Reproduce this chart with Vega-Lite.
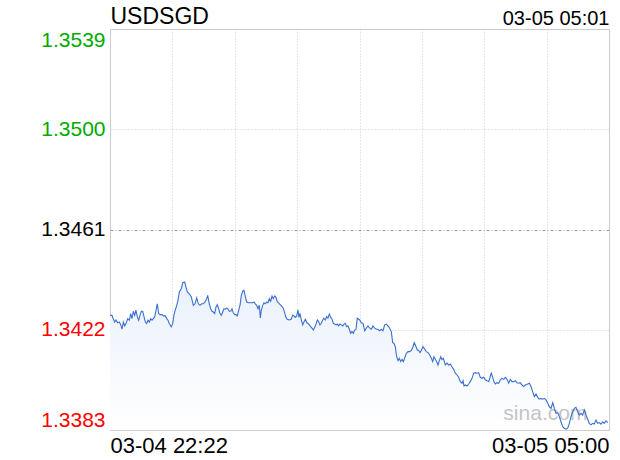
{
  "$schema": "https://vega.github.io/schema/vega-lite/v6.json",
  "width": 499,
  "height": 401,
  "autosize": {"type": "none"},
  "padding": {"left": 110, "top": 29, "right": 11, "bottom": 30},
  "background": "white",
  "config": {
    "view": {"stroke": "#cccccc", "strokeWidth": 1},
    "font": "Liberation Sans"
  },
  "datasets": {
    "fx": [
      {"t":0.0,"p":1.34276},{"t":1.6,"p":1.34276},{"t":2.6,"p":1.34263},{"t":3.8,"p":1.3425},{"t":4.8,"p":1.34258},{"t":6.2,"p":1.34247},{"t":7.5,"p":1.3425},{"t":8.8,"p":1.34237},{"t":9.6,"p":1.34222},{"t":10.7,"p":1.3425},{"t":11.8,"p":1.34235},{"t":12.8,"p":1.34244},{"t":14.2,"p":1.34263},{"t":15.5,"p":1.34257},{"t":16.6,"p":1.34283},{"t":17.6,"p":1.34263},{"t":18.7,"p":1.34292},{"t":19.8,"p":1.34276},{"t":20.8,"p":1.34296},{"t":21.9,"p":1.3427},{"t":23.0,"p":1.34257},{"t":24.0,"p":1.34276},{"t":25.1,"p":1.34292},{"t":26.2,"p":1.34292},{"t":27.3,"p":1.3427},{"t":28.3,"p":1.3425},{"t":29.4,"p":1.34244},{"t":30.5,"p":1.34257},{"t":31.5,"p":1.3425},{"t":32.6,"p":1.34263},{"t":33.7,"p":1.34257},{"t":34.7,"p":1.34263},{"t":35.8,"p":1.3427},{"t":36.9,"p":1.34296},{"t":37.9,"p":1.34321},{"t":39.0,"p":1.34283},{"t":40.1,"p":1.34279},{"t":41.7,"p":1.34279},{"t":42.7,"p":1.34274},{"t":44.3,"p":1.34274},{"t":45.5,"p":1.34263},{"t":46.5,"p":1.34257},{"t":47.5,"p":1.34244},{"t":49.1,"p":1.34231},{"t":50.3,"p":1.34244},{"t":51.3,"p":1.34279},{"t":52.3,"p":1.34296},{"t":53.5,"p":1.34315},{"t":54.5,"p":1.34335},{"t":55.6,"p":1.34367},{"t":57.2,"p":1.3438},{"t":58.3,"p":1.34403},{"t":59.9,"p":1.34406},{"t":60.9,"p":1.34386},{"t":62.0,"p":1.34367},{"t":63.6,"p":1.3436},{"t":65.2,"p":1.34348},
      {"t":66.8,"p":1.34315},{"t":68.1,"p":1.34321},{"t":69.5,"p":1.34344},{"t":70.8,"p":1.34321},{"t":72.1,"p":1.34315},{"t":73.5,"p":1.34321},{"t":74.8,"p":1.34321},{"t":76.2,"p":1.34328},{"t":77.5,"p":1.34341},{"t":78.3,"p":1.34354},{"t":79.6,"p":1.34321},{"t":80.7,"p":1.34302},{"t":81.8,"p":1.34292},{"t":82.8,"p":1.34289},{"t":83.9,"p":1.34283},{"t":85.0,"p":1.34309},{"t":86.0,"p":1.34318},{"t":87.1,"p":1.34302},{"t":88.2,"p":1.34283},{"t":89.2,"p":1.34276},{"t":90.3,"p":1.34289},{"t":91.4,"p":1.34302},{"t":92.4,"p":1.343},{"t":93.5,"p":1.34305},{"t":94.6,"p":1.343},{"t":95.6,"p":1.34292},{"t":96.8,"p":1.34292},{"t":97.8,"p":1.34302},{"t":98.8,"p":1.34286},{"t":100.0,"p":1.34279},{"t":101.0,"p":1.34279},{"t":102.0,"p":1.34274},{"t":103.2,"p":1.34296},{"t":104.2,"p":1.34315},{"t":105.3,"p":1.34354},{"t":106.4,"p":1.3437},{"t":107.4,"p":1.34373},{"t":108.5,"p":1.34348},{"t":109.6,"p":1.34328},{"t":111.2,"p":1.34325},{"t":112.8,"p":1.34325},{"t":114.4,"p":1.34325},{"t":115.4,"p":1.34328},{"t":116.5,"p":1.34321},{"t":117.6,"p":1.34315},{"t":118.6,"p":1.34302},{"t":119.7,"p":1.34315},{"t":120.5,"p":1.34266},{"t":121.3,"p":1.34296},{"t":122.4,"p":1.34315},{"t":123.4,"p":1.34325},{"t":124.5,"p":1.34321},{"t":125.6,"p":1.34328},{"t":126.7,"p":1.34325},{"t":127.7,"p":1.34341},{"t":128.8,"p":1.34331},{"t":129.9,"p":1.34351},{"t":130.9,"p":1.34341},{"t":132.0,"p":1.34351},
      {"t":132.8,"p":1.34349},{"t":134.1,"p":1.34329},{"t":135.5,"p":1.34323},{"t":136.8,"p":1.34316},{"t":137.9,"p":1.3431},{"t":138.9,"p":1.34304},{"t":140.0,"p":1.34286},{"t":141.1,"p":1.34268},{"t":142.1,"p":1.34261},{"t":143.7,"p":1.34258},{"t":145.3,"p":1.34261},{"t":146.5,"p":1.34277},{"t":147.5,"p":1.34274},{"t":148.5,"p":1.34268},{"t":149.7,"p":1.34274},{"t":150.7,"p":1.34297},{"t":151.5,"p":1.34268},{"t":152.3,"p":1.34284},{"t":153.3,"p":1.34258},{"t":154.5,"p":1.34239},{"t":155.5,"p":1.34251},{"t":156.6,"p":1.34261},{"t":157.7,"p":1.34247},{"t":158.7,"p":1.34245},{"t":159.8,"p":1.34239},{"t":160.9,"p":1.34232},{"t":161.9,"p":1.34226},{"t":163.0,"p":1.34219},{"t":164.1,"p":1.3423},{"t":165.1,"p":1.34242},{"t":166.2,"p":1.34258},{"t":167.3,"p":1.34251},{"t":168.3,"p":1.34239},{"t":169.4,"p":1.34245},{"t":170.5,"p":1.34258},{"t":171.5,"p":1.34265},{"t":172.6,"p":1.34258},{"t":173.7,"p":1.34271},{"t":174.7,"p":1.34265},{"t":175.8,"p":1.34281},{"t":176.9,"p":1.34268},{"t":178.0,"p":1.34261},{"t":179.0,"p":1.34245},{"t":180.1,"p":1.34242},{"t":181.2,"p":1.34239},{"t":182.2,"p":1.34242},{"t":183.3,"p":1.34235},{"t":184.3,"p":1.34242},{"t":185.4,"p":1.34239},{"t":186.5,"p":1.34235},{"t":187.6,"p":1.34242},{"t":188.6,"p":1.34245},{"t":189.7,"p":1.34232},{"t":190.8,"p":1.34235},{"t":191.8,"p":1.34222},{"t":192.9,"p":1.34206},{"t":194.0,"p":1.34213},{"t":195.0,"p":1.34206},{"t":196.2,"p":1.34219},{"t":197.2,"p":1.34222},{"t":198.2,"p":1.34265},{"t":199.4,"p":1.34261},
      {"t":200.2,"p":1.34258},{"t":201.4,"p":1.34247},{"t":202.8,"p":1.34245},{"t":204.2,"p":1.34216},{"t":205.4,"p":1.34226},{"t":206.8,"p":1.34235},{"t":208.2,"p":1.34226},{"t":209.5,"p":1.34222},{"t":210.8,"p":1.34235},{"t":212.2,"p":1.34226},{"t":213.5,"p":1.34222},{"t":214.8,"p":1.34222},{"t":216.2,"p":1.34216},{"t":217.5,"p":1.34222},{"t":218.8,"p":1.34216},{"t":220.2,"p":1.34239},{"t":221.5,"p":1.34242},{"t":222.8,"p":1.34235},{"t":224.2,"p":1.34226},{"t":225.5,"p":1.34213},{"t":226.6,"p":1.3417},{"t":227.7,"p":1.34167},{"t":228.7,"p":1.34154},{"t":229.8,"p":1.34115},{"t":230.9,"p":1.341},{"t":231.9,"p":1.34109},{"t":233.0,"p":1.34096},{"t":234.1,"p":1.34105},{"t":235.1,"p":1.34096},{"t":236.2,"p":1.34109},{"t":237.5,"p":1.34128},{"t":238.9,"p":1.34135},{"t":240.2,"p":1.34135},{"t":241.5,"p":1.34139},{"t":242.9,"p":1.34154},{"t":243.9,"p":1.3417},{"t":245.1,"p":1.34157},{"t":246.3,"p":1.34141},{"t":247.5,"p":1.34139},{"t":248.5,"p":1.34131},{"t":249.5,"p":1.34139},{"t":250.9,"p":1.34154},{"t":252.3,"p":1.34144},{"t":253.5,"p":1.34135},{"t":254.9,"p":1.34131},{"t":256.3,"p":1.34122},{"t":257.6,"p":1.34109},{"t":258.7,"p":1.34096},{"t":259.7,"p":1.34115},{"t":260.8,"p":1.34105},{"t":261.9,"p":1.34096},{"t":262.9,"p":1.34083},{"t":264.0,"p":1.341},{"t":265.1,"p":1.34115},{"t":266.1,"p":1.34104},{"t":267.2,"p":1.34109},
      {"t":268.8,"p":1.34083},{"t":270.1,"p":1.3409},{"t":271.5,"p":1.34083},{"t":272.8,"p":1.34087},{"t":274.1,"p":1.34076},{"t":275.5,"p":1.34066},{"t":276.8,"p":1.34051},{"t":278.2,"p":1.34044},{"t":279.5,"p":1.34035},{"t":280.8,"p":1.34018},{"t":282.2,"p":1.34012},{"t":283.0,"p":1.34022},{"t":283.8,"p":1.34001},{"t":284.8,"p":1.34005},{"t":286.2,"p":1.34001},{"t":287.5,"p":1.34009},{"t":288.8,"p":1.34018},{"t":290.2,"p":1.34031},{"t":291.5,"p":1.34051},{"t":292.8,"p":1.34053},{"t":294.2,"p":1.34051},{"t":295.5,"p":1.34053},{"t":296.8,"p":1.34035},{"t":298.2,"p":1.34031},{"t":299.6,"p":1.34035},{"t":300.8,"p":1.34025},{"t":302.2,"p":1.34022},{"t":303.6,"p":1.34018},{"t":304.9,"p":1.3404},{"t":305.7,"p":1.34051},{"t":306.8,"p":1.34035},{"t":307.8,"p":1.34018},{"t":308.9,"p":1.34009},{"t":310.2,"p":1.34014},{"t":311.6,"p":1.34012},{"t":312.9,"p":1.34025},{"t":314.2,"p":1.34031},{"t":315.6,"p":1.34027},{"t":316.9,"p":1.34035},{"t":318.2,"p":1.34027},{"t":319.6,"p":1.34012},{"t":320.9,"p":1.34027},{"t":322.2,"p":1.34018},{"t":323.6,"p":1.34018},{"t":324.9,"p":1.34022},{"t":326.2,"p":1.34014},{"t":327.6,"p":1.34012},{"t":328.9,"p":1.34014},{"t":330.3,"p":1.34005},{"t":331.6,"p":1.33999},{"t":332.9,"p":1.34005},
      {"t":334.8,"p":1.34009},{"t":336.1,"p":1.34012},{"t":337.5,"p":1.33999},{"t":338.8,"p":1.33979},{"t":340.1,"p":1.3396},{"t":341.5,"p":1.3397},{"t":342.8,"p":1.33957},{"t":344.1,"p":1.3395},{"t":345.5,"p":1.33953},{"t":346.9,"p":1.3395},{"t":348.1,"p":1.33953},{"t":349.5,"p":1.33947},{"t":350.9,"p":1.33934},{"t":352.1,"p":1.33921},{"t":353.5,"p":1.33914},{"t":354.9,"p":1.33936},{"t":356.2,"p":1.33914},{"t":357.5,"p":1.33895},{"t":358.9,"p":1.33897},{"t":360.2,"p":1.33882},{"t":361.5,"p":1.33862},{"t":362.9,"p":1.33843},{"t":364.2,"p":1.33837},{"t":365.5,"p":1.33833},{"t":366.9,"p":1.33837},{"t":368.2,"p":1.33856},{"t":369.5,"p":1.33882},{"t":370.9,"p":1.33901},{"t":372.2,"p":1.33914},{"t":373.5,"p":1.33918},{"t":374.9,"p":1.33901},{"t":376.2,"p":1.33888},{"t":377.6,"p":1.33895},{"t":378.9,"p":1.33888},{"t":380.2,"p":1.33908},{"t":381.6,"p":1.33888},{"t":382.9,"p":1.33872},{"t":384.2,"p":1.33856},{"t":385.6,"p":1.3385},{"t":386.9,"p":1.33856},{"t":388.2,"p":1.33853},{"t":389.6,"p":1.33869},{"t":390.9,"p":1.33856},{"t":392.2,"p":1.33859},{"t":393.6,"p":1.33853},{"t":394.9,"p":1.33862},{"t":396.2,"p":1.33856},{"t":397.6,"p":1.33866},{"t":399.0,"p":1.33859}
    ],
    "wm": [{"label": "sina.com", "t": 349, "p": 1.33869}]
  },
  "layer": [
    {
      "data": {"name": "fx"},
      "mark": {
        "type": "area",
        "color": {
          "gradient": "linear",
          "x1": 0, "y1": 0, "x2": 0, "y2": 1,
          "stops": [
            {"offset": 0, "color": "#eaf1fb"},
            {"offset": 1, "color": "#ffffff"}
          ]
        }
      },
      "encoding": {
        "x": {
          "field": "t", "type": "quantitative",
          "scale": {"domain": [0, 400], "nice": false, "zero": false},
          "axis": {
            "orient": "bottom",
            "title": null,
            "values": [0, 50, 100, 150, 200, 250, 300, 350, 400],
            "labelExpr": "datum.value == 0 ? '03-04 22:22' : (datum.value == 400 ? '03-05 05:00' : '')",
            "labelFlush": true,
            "labelOverlap": false,
            "labelFontSize": 22,
            "labelColor": "#000000",
            "labelPadding": 5,
            "labelBaseline": "top",
            "ticks": false,
            "domain": false,
            "grid": true,
            "gridColor": "#cccccc",
            "gridDash": [1, 2],
            "gridWidth": 1
          }
        },
        "y": {
          "field": "p", "type": "quantitative",
          "scale": {"domain": [1.3383, 1.3539], "nice": false, "zero": false},
          "axis": {
            "orient": "left",
            "title": null,
            "values": [1.3383, 1.3422, 1.3461, 1.35, 1.3539],
            "format": ".4f",
            "labelFlush": true,
            "labelOverlap": false,
            "labelFontSize": 21,
            "labelPadding": 5,
            "ticks": false,
            "domain": false,
            "grid": true,
            "gridWidth": 1,
            "labelColor": {
              "condition": [
                {"test": "datum.value > 1.3475", "value": "#00aa00"},
                {"test": "datum.value < 1.3445", "value": "#ff0000"}
              ],
              "value": "#000000"
            },
            "gridColor": {
              "condition": {"test": "abs(datum.value - 1.3461) < 0.00005", "value": "#999999"},
              "value": "#cccccc"
            },
            "gridDash": {
              "condition": {"test": "abs(datum.value - 1.3461) < 0.00005", "value": [3, 2, 1, 2]},
              "value": [1, 2]
            }
          }
        },
        "y2": {"datum": 1.3383}
      }
    },
    {
      "data": {"name": "wm"},
      "mark": {"type": "text", "fontSize": 21, "color": "#c4c4c4", "align": "center", "baseline": "alphabetic", "font": "Liberation Sans"},
      "encoding": {
        "x": {"field": "t", "type": "quantitative", "axis": {"orient": "bottom", "labels": false, "grid": false, "ticks": false, "domain": false, "title": null}},
        "y": {
          "field": "p", "type": "quantitative",
          "axis": {
            "orient": "left",
            "title": null,
            "values": [1.3383, 1.3422, 1.3461, 1.35, 1.3539],
            "format": ".4f",
            "labelFlush": true,
            "labelOverlap": false,
            "labelFontSize": 21,
            "labelPadding": 5,
            "ticks": false,
            "domain": false,
            "grid": true,
            "gridWidth": 1,
            "labelColor": {
              "condition": [
                {"test": "datum.value > 1.3475", "value": "#00aa00"},
                {"test": "datum.value < 1.3445", "value": "#ff0000"}
              ],
              "value": "#000000"
            },
            "gridColor": {
              "condition": {"test": "abs(datum.value - 1.3461) < 0.00005", "value": "#999999"},
              "value": "#cccccc"
            },
            "gridDash": {
              "condition": {"test": "abs(datum.value - 1.3461) < 0.00005", "value": [3, 2, 1, 2]},
              "value": [1, 2]
            }
          }
        },
        "text": {"field": "label"}
      }
    },
    {
      "data": {"name": "fx"},
      "mark": {"type": "line", "color": "#3b6fcf", "strokeWidth": 1.1, "interpolate": "linear"},
      "encoding": {
        "x": {
          "field": "t", "type": "quantitative",
          "axis": {
            "orient": "top",
            "title": null,
            "values": [0, 400],
            "labelExpr": "datum.value == 0 ? 'USDSGD' : '03-05 05:01'",
            "labelFlush": true,
            "labelOverlap": false,
            "labelFontSize": {
              "condition": {"test": "datum.value == 0", "value": 23},
              "value": 20
            },
            "labelColor": "#000000",
            "labelPadding": 1,
            "ticks": false,
            "domain": false,
            "grid": false
          }
        },
        "y": {
          "field": "p", "type": "quantitative",
          "axis": {
            "orient": "left",
            "title": null,
            "values": [1.3383, 1.3422, 1.3461, 1.35, 1.3539],
            "format": ".4f",
            "labelFlush": true,
            "labelOverlap": false,
            "labelFontSize": 21,
            "labelPadding": 5,
            "ticks": false,
            "domain": false,
            "grid": true,
            "gridWidth": 1,
            "labelColor": {
              "condition": [
                {"test": "datum.value > 1.3475", "value": "#00aa00"},
                {"test": "datum.value < 1.3445", "value": "#ff0000"}
              ],
              "value": "#000000"
            },
            "gridColor": {
              "condition": {"test": "abs(datum.value - 1.3461) < 0.00005", "value": "#999999"},
              "value": "#cccccc"
            },
            "gridDash": {
              "condition": {"test": "abs(datum.value - 1.3461) < 0.00005", "value": [3, 2, 1, 2]},
              "value": [1, 2]
            }
          }
        }
      }
    }
  ],
  "resolve": {"axis": {"x": "independent"}}
}
